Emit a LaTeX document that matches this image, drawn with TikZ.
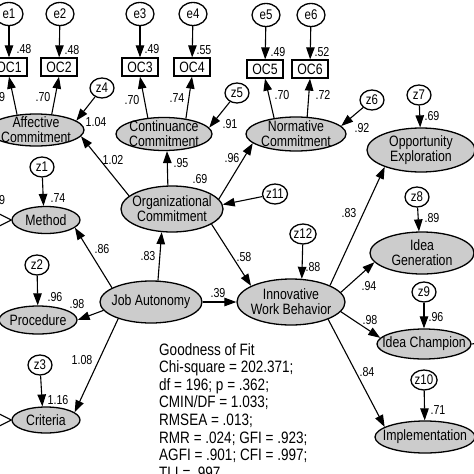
\documentclass[tikz,border=0pt]{standalone}
\usepackage{fontspec}
\setmainfont{Liberation Sans}[FakeStretch=0.82]
\usetikzlibrary{shapes.geometric,arrows.meta,positioning,calc}

\begin{document}
\begin{tikzpicture}[x=1pt,y=-1pt,
  latent/.style={ellipse,draw,line width=1.3pt,fill=black!20,inner sep=0pt},
  ltext/.style={font=\fontsize{15}{15}\selectfont,align=center,inner sep=0pt},
  err/.style={ellipse,draw,line width=1.3pt,fill=white,inner sep=0pt,minimum width=28pt,minimum height=23pt,font=\fontsize{14}{14}\selectfont},
  dist/.style={ellipse,draw,line width=1.3pt,fill=white,inner sep=0pt,minimum width=24pt,minimum height=20pt,font=\fontsize{14}{14}\selectfont},
  item/.style={rectangle,draw,line width=1.3pt,fill=white,inner sep=0pt,minimum width=36pt,minimum height=18pt,font=\fontsize{15}{15}\selectfont},
  coef/.style={font=\fontsize{13}{13}\selectfont,inner sep=0pt},
  fittext/.style={font=\fontsize{16.5}{17.6}\selectfont,align=left,inner sep=0pt},
  arr/.style={line width=1.1pt,-{Triangle[length=12pt,width=8.5pt]}},
  ]
  \useasboundingbox (0,0) rectangle (474,474);
  \clip (0,0) rectangle (474,474);

  % error terms and items
  \node[err] (e1) at (9,14) {e1};
  \node[err] (e2) at (60,14) {e2};
  \node[err] (e3) at (140,14) {e3};
  \node[err] (e4) at (193,14) {e4};
  \node[err] (e5) at (266,15) {e5};
  \node[err] (e6) at (311,15) {e6};
  \node[item] (oc1) at (9,67) {OC1};
  \node[item] (oc2) at (59,67) {OC2};
  \node[item] (oc3) at (140,67) {OC3};
  \node[item] (oc4) at (192,67) {OC4};
  \node[item] (oc5) at (265,69) {OC5};
  \node[item] (oc6) at (310,69) {OC6};

  % latent variables
  \node[latent,minimum width=96pt,minimum height=32pt,label={[ltext]center:Affective\\Commitment}] (aff) at (36,130) {};
  \node[latent,minimum width=96pt,minimum height=33pt,label={[ltext]center:Continuance\\Commitment}] (cont) at (164,134) {};
  \node[latent,minimum width=100pt,minimum height=34pt,label={[ltext]center:Normative\\Commitment}] (norm) at (296,134) {};
  \node[latent,minimum width=108pt,minimum height=44pt,label={[ltext]center:Opportunity\\Exploration}] (opp) at (421,150) {};
  \node[latent,minimum width=102pt,minimum height=46pt,label={[ltext]center:Organizational\\Commitment}] (orgc) at (172,209) {};
  \node[latent,minimum width=68pt,minimum height=27pt,label={[ltext]center:Method}] (method) at (46,220) {};
  \node[latent,minimum width=78pt,minimum height=28pt,label={[ltext]center:Procedure}] (proc) at (38,320) {};
  \node[latent,minimum width=68pt,minimum height=26pt,label={[ltext]center:Criteria}] (crit) at (46,420) {};
  \node[latent,minimum width=102pt,minimum height=42pt,label={[ltext]center:Job Autonomy}] (ja) at (151,302) {};
  \node[latent,minimum width=108pt,minimum height=46pt,label={[ltext]center:Innovative\\Work Behavior}] (iwb) at (291,302) {};
  \node[latent,minimum width=104pt,minimum height=42pt,label={[ltext]center:Idea\\Generation}] (ig) at (422,253) {};
  \node[latent,minimum width=94pt,minimum height=30pt,label={[ltext]center:Idea Champion}] (ic) at (424,344) {};
  \node[latent,minimum width=100pt,minimum height=32pt,label={[ltext]center:Implementation}] (impl) at (425,437) {};

  % disturbances
  \node[dist] (z1) at (42,167) {z1};
  \node[dist] (z2) at (37,265) {z2};
  \node[dist] (z3) at (40,365) {z3};
  \node[dist] (z4) at (102,88) {z4};
  \node[dist] (z5) at (237,93) {z5};
  \node[dist] (z6) at (372,100) {z6};
  \node[dist] (z7) at (419,95) {z7};
  \node[dist] (z8) at (417,197) {z8};
  \node[dist] (z9) at (424,292) {z9};
  \node[dist] (z10) at (424,380) {z10};
  \node[dist] (z11) at (275,194) {z11};
  \node[dist] (z12) at (303,234) {z12};

  % paths
  \draw[arr] (e1) -- (oc1);
  \draw[arr] (e2) -- (oc2);
  \draw[arr] (e3) -- (oc3);
  \draw[arr] (e4) -- (oc4);
  \draw[arr] (e5) -- (oc5);
  \draw[arr] (e6) -- (oc6);
  \draw[arr] (aff.141) -- (oc1.south);
  \draw[arr] (aff.45) -- (oc2.south);
  \draw[arr] (cont.135) -- (oc3.south);
  \draw[arr] (cont.35) -- (oc4.south);
  \draw[arr] (norm.144) -- (oc5.south);
  \draw[arr] (norm.57) -- (oc6.south);
  \draw[arr] (z4) -- (aff.13);
  \draw[arr] (z5) -- (cont.8);
  \draw[arr] (z6) -- (norm.10);
  \draw[arr] (z7) -- (opp);
  \draw[arr] (orgc.163) -- (aff.-8);
  \draw[arr] (orgc.100) -- (cont.-80);
  \draw[arr] (orgc.12) -- (norm.192);
  \draw[arr] (z11) -- (orgc.5);
  \draw[arr] (orgc.-21) -- (iwb.158);
  \draw[arr] (z12) -- (iwb.65);
  \draw[arr] (ja.160) -- (method.-15);
  \draw[arr] (ja.190) -- (proc.east);
  \draw[arr] (ja.207) -- (crit.15);
  \draw[arr] (ja.72) -- (orgc.246);
  \draw[arr] (ja) -- (iwb);
  \draw[arr] (z1) -- (method.100);
  \draw[arr] (z2) -- (proc);
  \draw[arr] (z3) -- (crit.105);
  \draw[arr] (iwb.23) -- (opp.205);
  \draw[arr] (iwb.11) -- (ig.191);
  \draw[arr] (iwb.-11) -- (ic.172);
  \draw[arr] (iwb.-25) -- (impl.166);
  \draw[arr] (z8) -- (ig.98);
  \draw[arr] (z9) -- (ic);
  \draw[arr] (z10) -- (impl);

  % lines running out of the frame
  \draw[line width=1.1pt] (method.west) -- ++(-20,-10);
  \draw[line width=1.1pt] (method.west) -- ++(-20,10);
  \draw[line width=1.1pt] (crit.west) -- ++(-20,-10);
  \draw[line width=1.1pt] (crit.west) -- ++(-20,10);
  \draw[line width=1.1pt] (opp.east) -- ++(20,-3);
  \draw[line width=1.1pt] (ig.east) -- ++(15,-12);
  \draw[line width=1.1pt] (ig.east) -- ++(15,12);
  \draw[line width=1.1pt] (ic.east) -- ++(15,-2);

  % estimates
  \node[coef] (r1) at (24,49) {.48};
  \node[coef] (r2) at (72,50) {.48};
  \node[coef] (r3) at (152,49) {.49};
  \node[coef] (r4) at (204,50) {.55};
  \node[coef] (r5) at (278,52) {.49};
  \node[coef] (r6) at (322,52) {.52};
  \node[coef] (l1) at (2,97) {9};
  \node[coef] (l2) at (43,97) {.70};
  \node[coef] (l3) at (132,100) {.70};
  \node[coef] (l4) at (177,98) {.74};
  \node[coef] (l5) at (282,95) {.70};
  \node[coef] (l6) at (323,95) {.72};
  \node[coef] (s4) at (96,122) {1.04};
  \node[coef] (s5) at (230,124) {.91};
  \node[coef] (s6) at (362,128) {.92};
  \node[coef] (s7) at (432,116) {.69};
  \node[coef] (b1) at (113,160) {1.02};
  \node[coef] (b2) at (181,163) {.95};
  \node[coef] (b3) at (232,158) {.96};
  \node[coef] (s11) at (200,179) {.69};
  \node[coef] (l7) at (2,200) {9};
  \node[coef] (s1) at (58,198) {.74};
  \node[coef] (b4) at (102,249) {.86};
  \node[coef] (b5) at (148,256) {.83};
  \node[coef] (s2) at (55,297) {.96};
  \node[coef] (b6) at (77,304) {.98};
  \node[coef] (b7) at (218,293) {.39};
  \node[coef] (b8) at (82,360) {1.08};
  \node[coef] (s3) at (58,400) {1.16};
  \node[coef] (b9) at (244,257) {.58};
  \node[coef] (s12) at (313,267) {.88};
  \node[coef] (b10) at (349,213) {.83};
  \node[coef] (s8) at (432,218) {.89};
  \node[coef] (b11) at (369,286) {.94};
  \node[coef] (b12) at (370,320) {.98};
  \node[coef] (s9) at (436,317) {.96};
  \node[coef] (b13) at (367,372) {.84};
  \node[coef] (s10) at (438,410) {.71};

  % fit indices
  \node[fittext,anchor=north west] (gof) at (159,343) {Goodness of Fit\\Chi-square = 202.371;\\df = 196; p = .362;\\CMIN/DF = 1.033;\\RMSEA = .013;\\RMR = .024; GFI = .923;\\AGFI = .901; CFI = .997;\\TLI = .997};
\end{tikzpicture}
\end{document}
